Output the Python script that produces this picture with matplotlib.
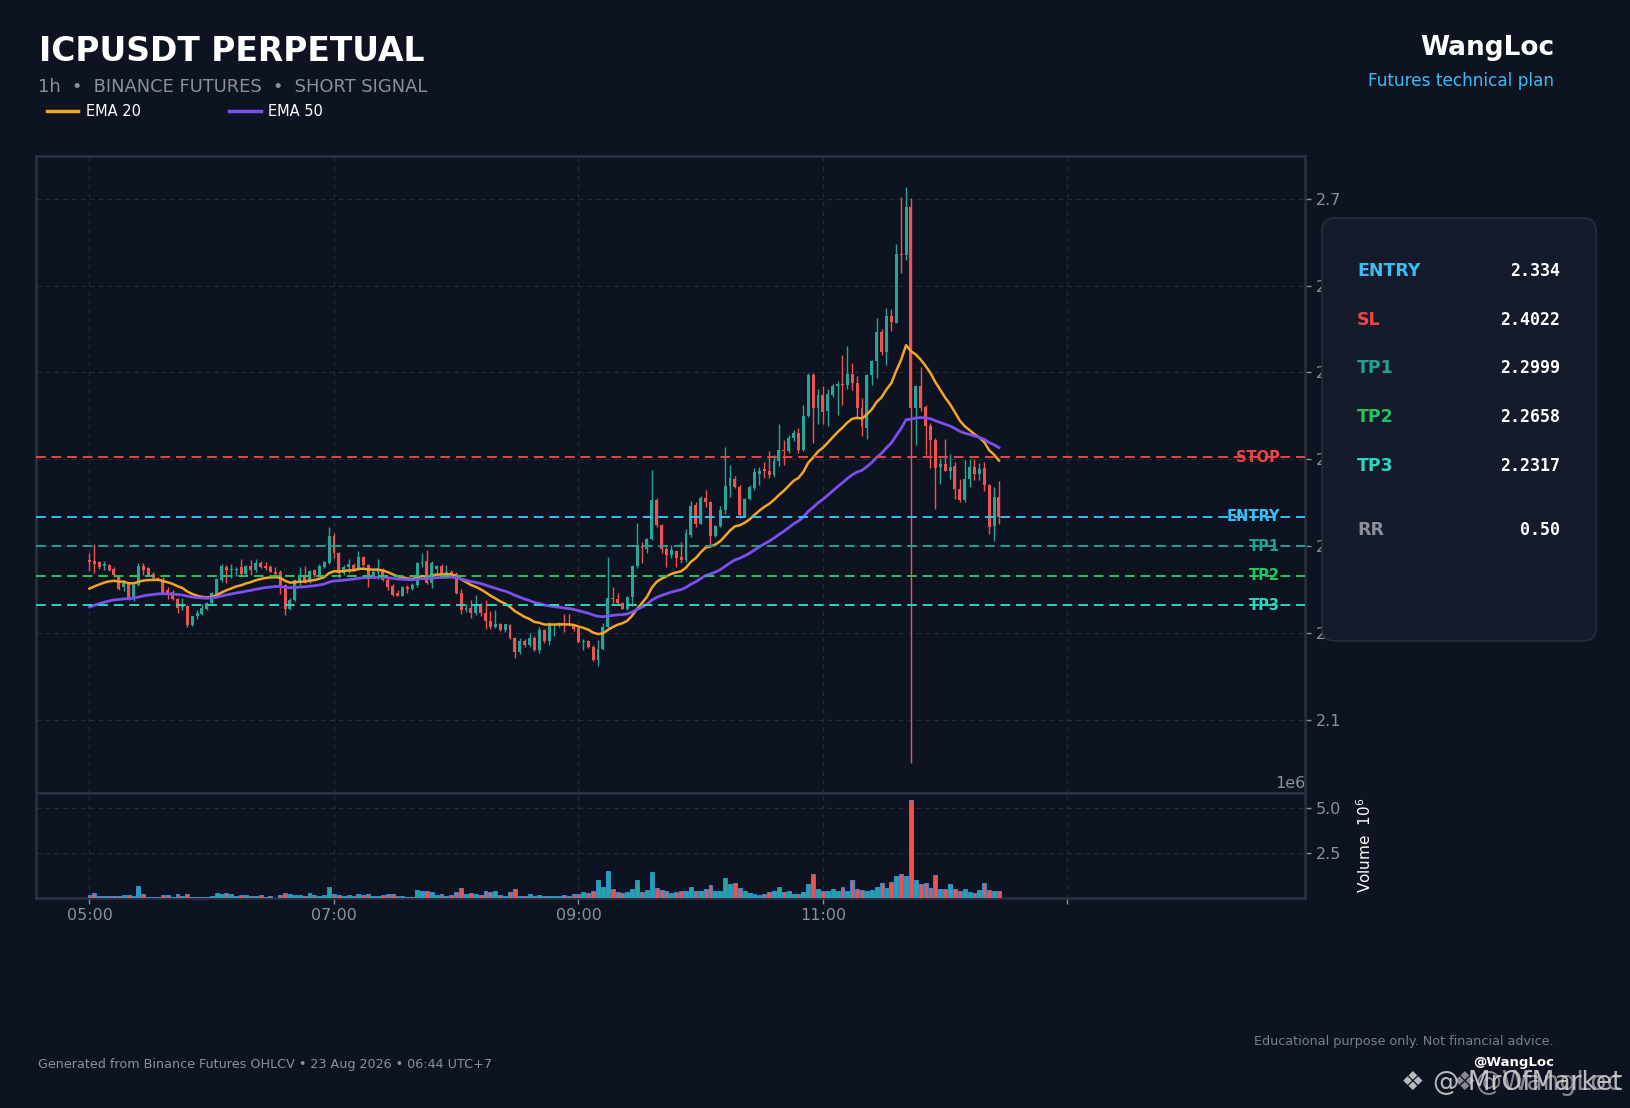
import numpy as np
import matplotlib
matplotlib.use("Agg")
import matplotlib.pyplot as plt
from matplotlib.patches import FancyBboxPatch
from matplotlib.lines import Line2D

# ---- data (1h candles, oldest first) ----
opens = [
    2.284, 2.283, 2.282, 2.277, 2.278, 2.274, 2.265, 2.253, 2.257, 2.239,
    2.255, 2.277, 2.275, 2.268, 2.263, 2.262, 2.249, 2.247, 2.239, 2.230,
    2.231, 2.209, 2.219, 2.222, 2.228, 2.234, 2.244, 2.261, 2.276, 2.273,
    2.273, 2.276, 2.268, 2.277, 2.272, 2.281, 2.277, 2.276, 2.270, 2.270,
    2.255, 2.228, 2.238, 2.260, 2.267, 2.259, 2.272, 2.267, 2.276, 2.281,
    2.312, 2.292, 2.269, 2.276, 2.278, 2.274, 2.288, 2.278, 2.265, 2.270,
    2.273, 2.261, 2.254, 2.246, 2.243, 2.253, 2.251, 2.255, 2.280, 2.283,
    2.257, 2.274, 2.277, 2.268, 2.270, 2.268, 2.246, 2.227, 2.229, 2.223,
    2.232, 2.223, 2.214, 2.207, 2.210, 2.203, 2.209, 2.194, 2.178, 2.191,
    2.186, 2.194, 2.180, 2.203, 2.191, 2.209, 2.209, 2.212, 2.210, 2.209,
    2.206, 2.190, 2.191, 2.184, 2.169, 2.182, 2.207, 2.240, 2.239, 2.235,
    2.228, 2.241, 2.277, 2.300, 2.297, 2.308, 2.353, 2.324, 2.297, 2.290,
    2.294, 2.288, 2.284, 2.313, 2.347, 2.326, 2.355, 2.351, 2.312, 2.323,
    2.342, 2.369, 2.377, 2.368, 2.334, 2.354, 2.367, 2.383, 2.389, 2.386,
    2.382, 2.398, 2.411, 2.409, 2.424, 2.430, 2.411, 2.450, 2.497, 2.459,
    2.474, 2.456, 2.474, 2.484, 2.487, 2.486, 2.498, 2.488, 2.459, 2.436,
    2.497, 2.513, 2.547, 2.523, 2.565, 2.557, 2.636, 2.635, 2.690, 2.459,
    2.484, 2.460, 2.438, 2.422, 2.391, 2.394, 2.387, 2.392, 2.366, 2.353,
    2.377, 2.391, 2.383, 2.390, 2.370, 2.323, 2.357,
]
highs = [
    2.292, 2.303, 2.283, 2.283, 2.279, 2.276, 2.267, 2.261, 2.259, 2.257,
    2.281, 2.281, 2.276, 2.270, 2.265, 2.264, 2.253, 2.249, 2.240, 2.240,
    2.232, 2.220, 2.227, 2.233, 2.236, 2.247, 2.263, 2.279, 2.278, 2.279,
    2.276, 2.285, 2.278, 2.284, 2.285, 2.283, 2.282, 2.278, 2.276, 2.273,
    2.256, 2.240, 2.262, 2.276, 2.277, 2.273, 2.274, 2.279, 2.283, 2.322,
    2.315, 2.293, 2.278, 2.285, 2.280, 2.294, 2.289, 2.279, 2.272, 2.285,
    2.275, 2.265, 2.256, 2.249, 2.254, 2.255, 2.257, 2.282, 2.292, 2.295,
    2.283, 2.278, 2.279, 2.278, 2.272, 2.270, 2.251, 2.233, 2.238, 2.244,
    2.234, 2.238, 2.225, 2.227, 2.211, 2.210, 2.210, 2.195, 2.194, 2.193,
    2.200, 2.196, 2.207, 2.205, 2.213, 2.210, 2.213, 2.222, 2.222, 2.210,
    2.207, 2.193, 2.192, 2.186, 2.192, 2.211, 2.287, 2.253, 2.246, 2.236,
    2.242, 2.278, 2.327, 2.305, 2.309, 2.388, 2.355, 2.325, 2.299, 2.301,
    2.296, 2.305, 2.320, 2.352, 2.351, 2.358, 2.365, 2.352, 2.324, 2.346,
    2.414, 2.393, 2.381, 2.370, 2.355, 2.370, 2.390, 2.391, 2.397, 2.409,
    2.405, 2.441, 2.422, 2.428, 2.434, 2.436, 2.462, 2.499, 2.499, 2.481,
    2.484, 2.481, 2.487, 2.490, 2.520, 2.531, 2.511, 2.496, 2.470, 2.498,
    2.514, 2.563, 2.550, 2.574, 2.573, 2.648, 2.702, 2.714, 2.701, 2.485,
    2.506, 2.462, 2.442, 2.424, 2.401, 2.423, 2.406, 2.397, 2.377, 2.399,
    2.400, 2.400, 2.396, 2.397, 2.371, 2.368, 2.375,
]
lows = [
    2.271, 2.269, 2.274, 2.273, 2.271, 2.265, 2.250, 2.248, 2.238, 2.237,
    2.254, 2.267, 2.266, 2.262, 2.261, 2.245, 2.239, 2.238, 2.223, 2.226,
    2.207, 2.208, 2.216, 2.221, 2.226, 2.233, 2.243, 2.259, 2.258, 2.263,
    2.266, 2.267, 2.267, 2.267, 2.270, 2.275, 2.272, 2.270, 2.265, 2.245,
    2.221, 2.226, 2.237, 2.255, 2.257, 2.258, 2.265, 2.265, 2.275, 2.279,
    2.286, 2.263, 2.267, 2.269, 2.271, 2.272, 2.277, 2.253, 2.263, 2.262,
    2.260, 2.250, 2.243, 2.242, 2.242, 2.246, 2.249, 2.253, 2.276, 2.256,
    2.252, 2.267, 2.264, 2.263, 2.265, 2.245, 2.222, 2.224, 2.217, 2.221,
    2.220, 2.205, 2.204, 2.206, 2.202, 2.201, 2.193, 2.171, 2.176, 2.184,
    2.184, 2.179, 2.177, 2.188, 2.186, 2.196, 2.207, 2.201, 2.208, 2.202,
    2.189, 2.180, 2.183, 2.168, 2.162, 2.180, 2.205, 2.234, 2.232, 2.228,
    2.226, 2.231, 2.275, 2.280, 2.292, 2.307, 2.322, 2.292, 2.276, 2.286,
    2.276, 2.280, 2.282, 2.311, 2.322, 2.325, 2.345, 2.300, 2.311, 2.322,
    2.337, 2.357, 2.367, 2.332, 2.333, 2.353, 2.365, 2.370, 2.378, 2.378,
    2.380, 2.392, 2.393, 2.407, 2.421, 2.407, 2.410, 2.449, 2.419, 2.441,
    2.441, 2.438, 2.472, 2.451, 2.462, 2.481, 2.480, 2.446, 2.427, 2.423,
    2.485, 2.494, 2.520, 2.508, 2.548, 2.557, 2.614, 2.630, 2.050, 2.416,
    2.456, 2.405, 2.390, 2.343, 2.372, 2.386, 2.377, 2.354, 2.351, 2.351,
    2.368, 2.376, 2.376, 2.364, 2.314, 2.306, 2.325,
]
closes = [
    2.282, 2.279, 2.276, 2.279, 2.272, 2.267, 2.251, 2.258, 2.240, 2.255,
    2.277, 2.273, 2.267, 2.263, 2.262, 2.246, 2.245, 2.239, 2.229, 2.232,
    2.209, 2.219, 2.223, 2.229, 2.235, 2.246, 2.262, 2.277, 2.273, 2.273,
    2.274, 2.268, 2.277, 2.273, 2.281, 2.276, 2.275, 2.270, 2.268, 2.255,
    2.228, 2.238, 2.261, 2.267, 2.259, 2.271, 2.267, 2.277, 2.282, 2.312,
    2.292, 2.269, 2.276, 2.279, 2.273, 2.288, 2.278, 2.265, 2.270, 2.274,
    2.261, 2.253, 2.244, 2.243, 2.253, 2.251, 2.255, 2.280, 2.282, 2.257,
    2.280, 2.277, 2.268, 2.270, 2.268, 2.246, 2.227, 2.229, 2.223, 2.232,
    2.223, 2.214, 2.207, 2.210, 2.203, 2.210, 2.194, 2.178, 2.191, 2.186,
    2.194, 2.180, 2.203, 2.191, 2.209, 2.210, 2.212, 2.210, 2.209, 2.204,
    2.190, 2.191, 2.184, 2.169, 2.182, 2.207, 2.240, 2.239, 2.235, 2.228,
    2.241, 2.277, 2.301, 2.298, 2.308, 2.353, 2.324, 2.297, 2.290, 2.295,
    2.286, 2.284, 2.315, 2.346, 2.326, 2.355, 2.351, 2.312, 2.323, 2.342,
    2.369, 2.378, 2.368, 2.336, 2.354, 2.368, 2.385, 2.387, 2.386, 2.382,
    2.398, 2.411, 2.410, 2.424, 2.430, 2.411, 2.450, 2.497, 2.459, 2.474,
    2.455, 2.475, 2.484, 2.487, 2.486, 2.498, 2.488, 2.459, 2.438, 2.497,
    2.513, 2.547, 2.523, 2.565, 2.558, 2.636, 2.635, 2.691, 2.459, 2.484,
    2.459, 2.438, 2.422, 2.390, 2.394, 2.387, 2.391, 2.366, 2.353, 2.377,
    2.391, 2.383, 2.389, 2.370, 2.322, 2.357, 2.334,
]
# volume in millions
volumes = [
    0.17, 0.28, 0.10, 0.11, 0.10, 0.10, 0.10, 0.17, 0.17, 0.11,
    0.63, 0.23, 0.06, 0.06, 0.02, 0.17, 0.17, 0.02, 0.23, 0.10,
    0.23, 0.06, 0.06, 0.06, 0.06, 0.11, 0.28, 0.23, 0.28, 0.23,
    0.08, 0.17, 0.17, 0.11, 0.11, 0.17, 0.06, 0.11, 0.01, 0.17,
    0.28, 0.23, 0.17, 0.17, 0.11, 0.28, 0.17, 0.11, 0.17, 0.59,
    0.23, 0.15, 0.10, 0.15, 0.10, 0.20, 0.15, 0.20, 0.10, 0.10,
    0.15, 0.20, 0.20, 0.12, 0.12, 0.06, 0.06, 0.45, 0.35, 0.40,
    0.30, 0.15, 0.20, 0.10, 0.15, 0.30, 0.55, 0.20, 0.25, 0.20,
    0.15, 0.35, 0.30, 0.40, 0.15, 0.10, 0.30, 0.50, 0.10, 0.10,
    0.20, 0.10, 0.15, 0.10, 0.12, 0.08, 0.10, 0.15, 0.10, 0.20,
    0.20, 0.30, 0.25, 0.35, 0.98, 0.60, 1.50, 0.50, 0.30, 0.25,
    0.30, 0.50, 1.00, 0.30, 0.45, 1.45, 0.55, 0.45, 0.35, 0.25,
    0.30, 0.35, 0.40, 0.60, 0.35, 0.40, 0.50, 0.70, 0.35, 0.35,
    1.10, 0.75, 0.80, 0.55, 0.40, 0.25, 0.20, 0.15, 0.20, 0.30,
    0.35, 0.60, 0.30, 0.40, 0.20, 0.20, 0.30, 0.75, 1.30, 0.50,
    0.40, 0.35, 0.50, 0.35, 0.60, 0.40, 1.00, 0.50, 0.45, 0.40,
    0.45, 0.60, 0.80, 0.55, 0.90, 1.20, 1.30, 1.20, 5.45, 1.00,
    0.75, 0.80, 0.55, 1.27, 0.50, 0.50, 0.75, 0.50, 0.40, 0.50,
    0.30, 0.25, 0.45, 0.80, 0.45, 0.40, 0.40,
]
tick_pos = [0, 50, 100, 150, 200]
tick_labels = ["05:00", "07:00", "09:00", "11:00", ""]

# first EMA values shown on the chart (series continues from earlier data)
ema20_start = 2.251
ema50_start = 2.230

levels = [("STOP", 2.4022, "#ef4444"), ("ENTRY", 2.334, "#38bdf8"),
          ("TP1", 2.2999, "#1fa38e"), ("TP2", 2.2658, "#22c55e"),
          ("TP3", 2.2317, "#2dd4bf")]
panel_rows = [("ENTRY", "2.334", "#38bdf8"), ("SL", "2.4022", "#ef4444"),
              ("TP1", "2.2999", "#1fa38e"), ("TP2", "2.2658", "#22c55e"),
              ("TP3", "2.2317", "#2dd4bf"), ("RR", "0.50", "#8b909a")]

# ---- styling ----
BG = "#0d1320"
GRID = "#252b39"
SPINE = "#2b3140"
TXT = "#8b909a"
UP = "#26a69a"
DOWN = "#ef5350"

W, H = 1631, 1108
fig = plt.figure(figsize=(W / 100, H / 100), dpi=100, facecolor=BG)


def fx(px):
    return px / W


def fy(py):
    return 1 - py / H


ax = fig.add_axes([fx(36.4), fy(792.6), fx(1305.5 - 36.4), (792.6 - 156) / H])
axv = fig.add_axes([fx(36.4), fy(897.7), fx(1305.5 - 36.4), (897.7 - 792.6) / H], sharex=ax)

o = np.array(opens)
h = np.array(highs)
l = np.array(lows)
c = np.array(closes)
v = np.array(volumes) * 1e6
x = np.arange(len(c))
up = c >= o
cols = np.where(up, UP, DOWN)

for a in (ax, axv):
    a.set_facecolor(BG)
    for s in a.spines.values():
        s.set_color(SPINE)
        s.set_linewidth(1.8)
    a.grid(True, color=GRID, linestyle=(0, (4, 4)), linewidth=0.8)
    a.set_axisbelow(True)
    a.yaxis.tick_right()
    a.tick_params(colors=TXT, labelsize=11.5, length=4, width=1)

# candles
ax.vlines(x, l, h, colors=cols, linewidth=1, zorder=2)
body = np.maximum(np.abs(c - o), 0.0008)
ax.bar(x, body, bottom=np.minimum(o, c), width=0.6, color=cols, linewidth=0, zorder=3)

# EMAs
ema20 = [ema20_start]
ema50 = [ema50_start]
for i in range(1, len(c)):
    ema20.append(ema20[-1] + 2 / 21 * (c[i] - ema20[-1]))
    ema50.append(ema50[-1] + 2 / 51 * (c[i] - ema50[-1]))
ax.plot(x, ema20, color="#f5a524", linewidth=1.8, zorder=4)
ax.plot(x, ema50, color="#7b4ff0", linewidth=2, zorder=4)

# trade levels
for name, lvl, col in levels:
    ax.axhline(lvl, color=col, linestyle=(0, (5, 3)), linewidth=1.4, zorder=4)
    ax.text(243.5, lvl, name, color=col, fontsize=10.5, fontweight="bold",
            ha="right", va="center", zorder=3)

ax.set_xlim(-10.86, 248.7)
ax.set_ylim(2.0162, 2.7492)
ax.set_yticks([2.1, 2.2, 2.3, 2.4, 2.5, 2.6, 2.7])
ax.tick_params(axis="x", labelbottom=False, length=0)

# volume
axv.bar(x, v, width=0.8, color=cols, edgecolor="#2a8fd6", linewidth=0.7, zorder=3)
axv.set_ylim(0, 5.87e6)
axv.set_yticks([2.5e6, 5.0e6])
axv.yaxis.set_offset_position("right")
axv.yaxis.get_offset_text().set_color(TXT)
axv.yaxis.get_offset_text().set_fontsize(11.5)
axv.set_xticks(tick_pos)
axv.set_xticklabels(tick_labels)
axv.yaxis.set_label_position("right")
axv.set_ylabel("Volume  $10^{6}$", color="white", fontsize=11, labelpad=10)

# header
fig.text(fx(39), fy(61), "ICPUSDT PERPETUAL", color="white", fontsize=23.8,
         fontweight="bold", va="baseline")
fig.text(fx(38), fy(92.5), "1h  \u2022  BINANCE FUTURES  \u2022  SHORT SIGNAL",
         color=TXT, fontsize=12.9, va="baseline")
fig.add_artist(Line2D([fx(47), fx(78)], [fy(111), fy(111)], color="#f5a524",
                      linewidth=2.5, transform=fig.transFigure))
fig.text(fx(86), fy(111), "EMA 20", color="white", fontsize=10.5, va="center")
fig.add_artist(Line2D([fx(229), fx(261)], [fy(111), fy(111)], color="#7b4ff0",
                      linewidth=2.5, transform=fig.transFigure))
fig.text(fx(268), fy(111), "EMA 50", color="white", fontsize=10.5, va="center")

fig.text(fx(1554), fy(55), "WangLoc", color="white", fontsize=19,
         fontweight="bold", ha="right", va="baseline")
fig.text(fx(1554), fy(86), "Futures technical plan", color="#38bdf8",
         fontsize=12.2, ha="right", va="baseline")

# signal panel
panel = FancyBboxPatch((13.22, (H - 641) / 100), 2.74, 4.23,
                       boxstyle="round,pad=0,rounding_size=0.13",
                       transform=fig.dpi_scale_trans, facecolor="#151b2b",
                       edgecolor="#272d3b", linewidth=1.2, zorder=5)
fig.add_artist(panel)
row_y = [271, 320, 368, 417, 466, 530]
for (lab, val, col), yy in zip(panel_rows, row_y):
    fig.text(fx(1357), fy(yy), lab, color=col, fontsize=12.5, fontweight="bold",
             va="center", zorder=6)
    fig.text(fx(1560), fy(yy), val, color="white", fontsize=12, fontweight="bold",
             family="DejaVu Sans Mono", ha="right", va="center", zorder=6)

# footer
fig.text(fx(38), fy(1068), "Generated from Binance Futures OHLCV \u2022 23 Aug 2026 \u2022 06:44 UTC+7",
         color=TXT, fontsize=9.2, va="baseline")
fig.text(fx(1554), fy(1045), "Educational purpose only. Not financial advice.",
         color="#7a7f8a", fontsize=9.2, ha="right", va="baseline")
fig.text(fx(1554), fy(1066), "@WangLoc", color="white", fontsize=9.5,
         fontweight="bold", ha="right", va="baseline")
fig.text(fx(1622), fy(1090), "\u2756 @ MrOfMarket", color="#d8d8d8", fontsize=19,
         ha="right", va="baseline", alpha=0.85)
fig.text(fx(1622), fy(1090), "\u2756@WangLoc", color="#d8d8d8", fontsize=19,
         ha="right", va="baseline", alpha=0.6)

fig.savefig("out.png", dpi=100, facecolor=BG)
